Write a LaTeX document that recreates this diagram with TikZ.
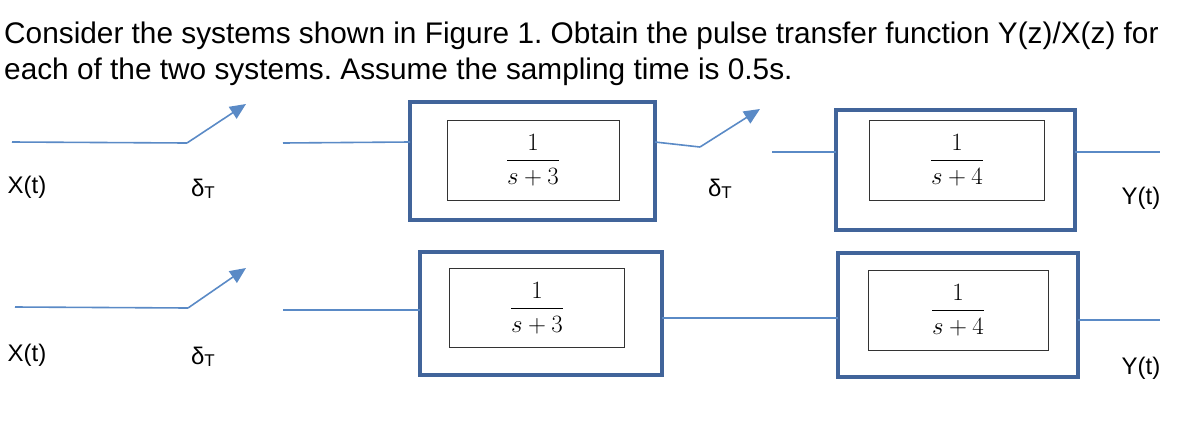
\documentclass[tikz,border=0pt]{standalone}
\usepackage{fontspec}
\setmainfont{Liberation Sans}
\usepackage{amsmath}
\usetikzlibrary{arrows.meta}
\definecolor{wire}{HTML}{5A8AC6}
\definecolor{frame}{HTML}{41649A}
\frenchspacing
\tikzset{
 wireln/.style={draw=wire,line width=1.6pt},
 sw/.style={draw=wire,line width=1.6pt,-{Triangle[length=16pt,width=14pt]}},
 outer/.style={draw=frame,line width=4pt},
 inner/.style={draw=black!80,line width=1pt},
 lbl/.style={font=\fontsize{24}{27}\selectfont},
 tf/.style={font=\fontsize{29}{34}\selectfont}
}
\begin{document}
\begin{tikzpicture}[x=1pt,y=-1pt]
\useasboundingbox (0,0) rectangle (1184,429);
\node[anchor=west,inner sep=0pt,font=\fontsize{29.8}{34}\selectfont] (t1) at (4,36) {Consider the systems shown in Figure 1. Obtain the pulse transfer function Y(z)/X(z) for};
\node[anchor=west,inner sep=0pt,font=\fontsize{29.8}{34}\selectfont] (t2) at (4,72) {each of the two systems. Assume the sampling time is 0.5s.};
% row 1
\coordinate (a1) at (12,142); \coordinate (a2) at (187,143); \coordinate (a3) at (246,104);
\draw[wireln] (a1) -- (a2); \draw[sw] (a2) -- (a3);
\coordinate (b1) at (283,143);
\draw[outer] (410,102) rectangle (655,220);
\node[inner,minimum width=172pt,minimum height=80pt] (in1) at (533,160) {};
\node[tf] at (in1) {$\dfrac{1}{s+3}$};
\coordinate (o1l) at (410,142); \coordinate (o1r) at (655,142);
\draw[wireln] (b1) -- (o1l);
\coordinate (c2) at (700,147); \coordinate (c3) at (760,109);
\draw[wireln] (o1r) -- (c2); \draw[sw] (c2) -- (c3);
\coordinate (d1) at (772,152); \coordinate (o2l) at (836,152); \coordinate (o2r) at (1075,152); \coordinate (e1) at (1160,152);
\draw[outer] (836,110) rectangle (1075,230);
\node[inner,minimum width=175pt,minimum height=80pt] (in2) at (957,160) {};
\node[tf] at (in2) {$\dfrac{1}{s+4}$};
\draw[wireln] (d1) -- (o2l); \draw[wireln] (o2r) -- (e1);
\node[lbl] (x1) at (27,187) {X(t)};
\node[lbl] (d1l) at (203,189) {δ\raisebox{-0.15ex}{\fontsize{17}{19}\selectfont T}};
\node[lbl] (d2l) at (720,189) {δ\raisebox{-0.15ex}{\fontsize{17}{19}\selectfont T}};
\node[lbl] (y1) at (1141,198) {Y(t)};
% row 2
\coordinate (f1) at (15,307); \coordinate (f2) at (188,308); \coordinate (f3) at (246,268);
\draw[wireln] (f1) -- (f2); \draw[sw] (f2) -- (f3);
\coordinate (g1) at (283,310); \coordinate (o3l) at (420,310); \coordinate (o3r) at (662,318);
\draw[outer] (420,252) rectangle (662,375);
\node[inner,minimum width=175pt,minimum height=79pt] (in3) at (537,308) {};
\node[tf] at (in3) {$\dfrac{1}{s+3}$};
\draw[wireln] (g1) -- (o3l);
\coordinate (o4l) at (838,318); \coordinate (o4r) at (1078,320); \coordinate (h1) at (1160,320);
\draw[outer] (838,253) rectangle (1078,377);
\node[inner,minimum width=180pt,minimum height=80pt] (in4) at (958,310) {};
\node[tf] at (in4) {$\dfrac{1}{s+4}$};
\draw[wireln] (o3r) -- (o4l); \draw[wireln] (o4r) -- (h1);
\node[lbl] (x2) at (27,355) {X(t)};
\node[lbl] (d3l) at (203,357) {δ\raisebox{-0.15ex}{\fontsize{17}{19}\selectfont T}};
\node[lbl] (y2) at (1141,368) {Y(t)};
\end{tikzpicture}
\end{document}
